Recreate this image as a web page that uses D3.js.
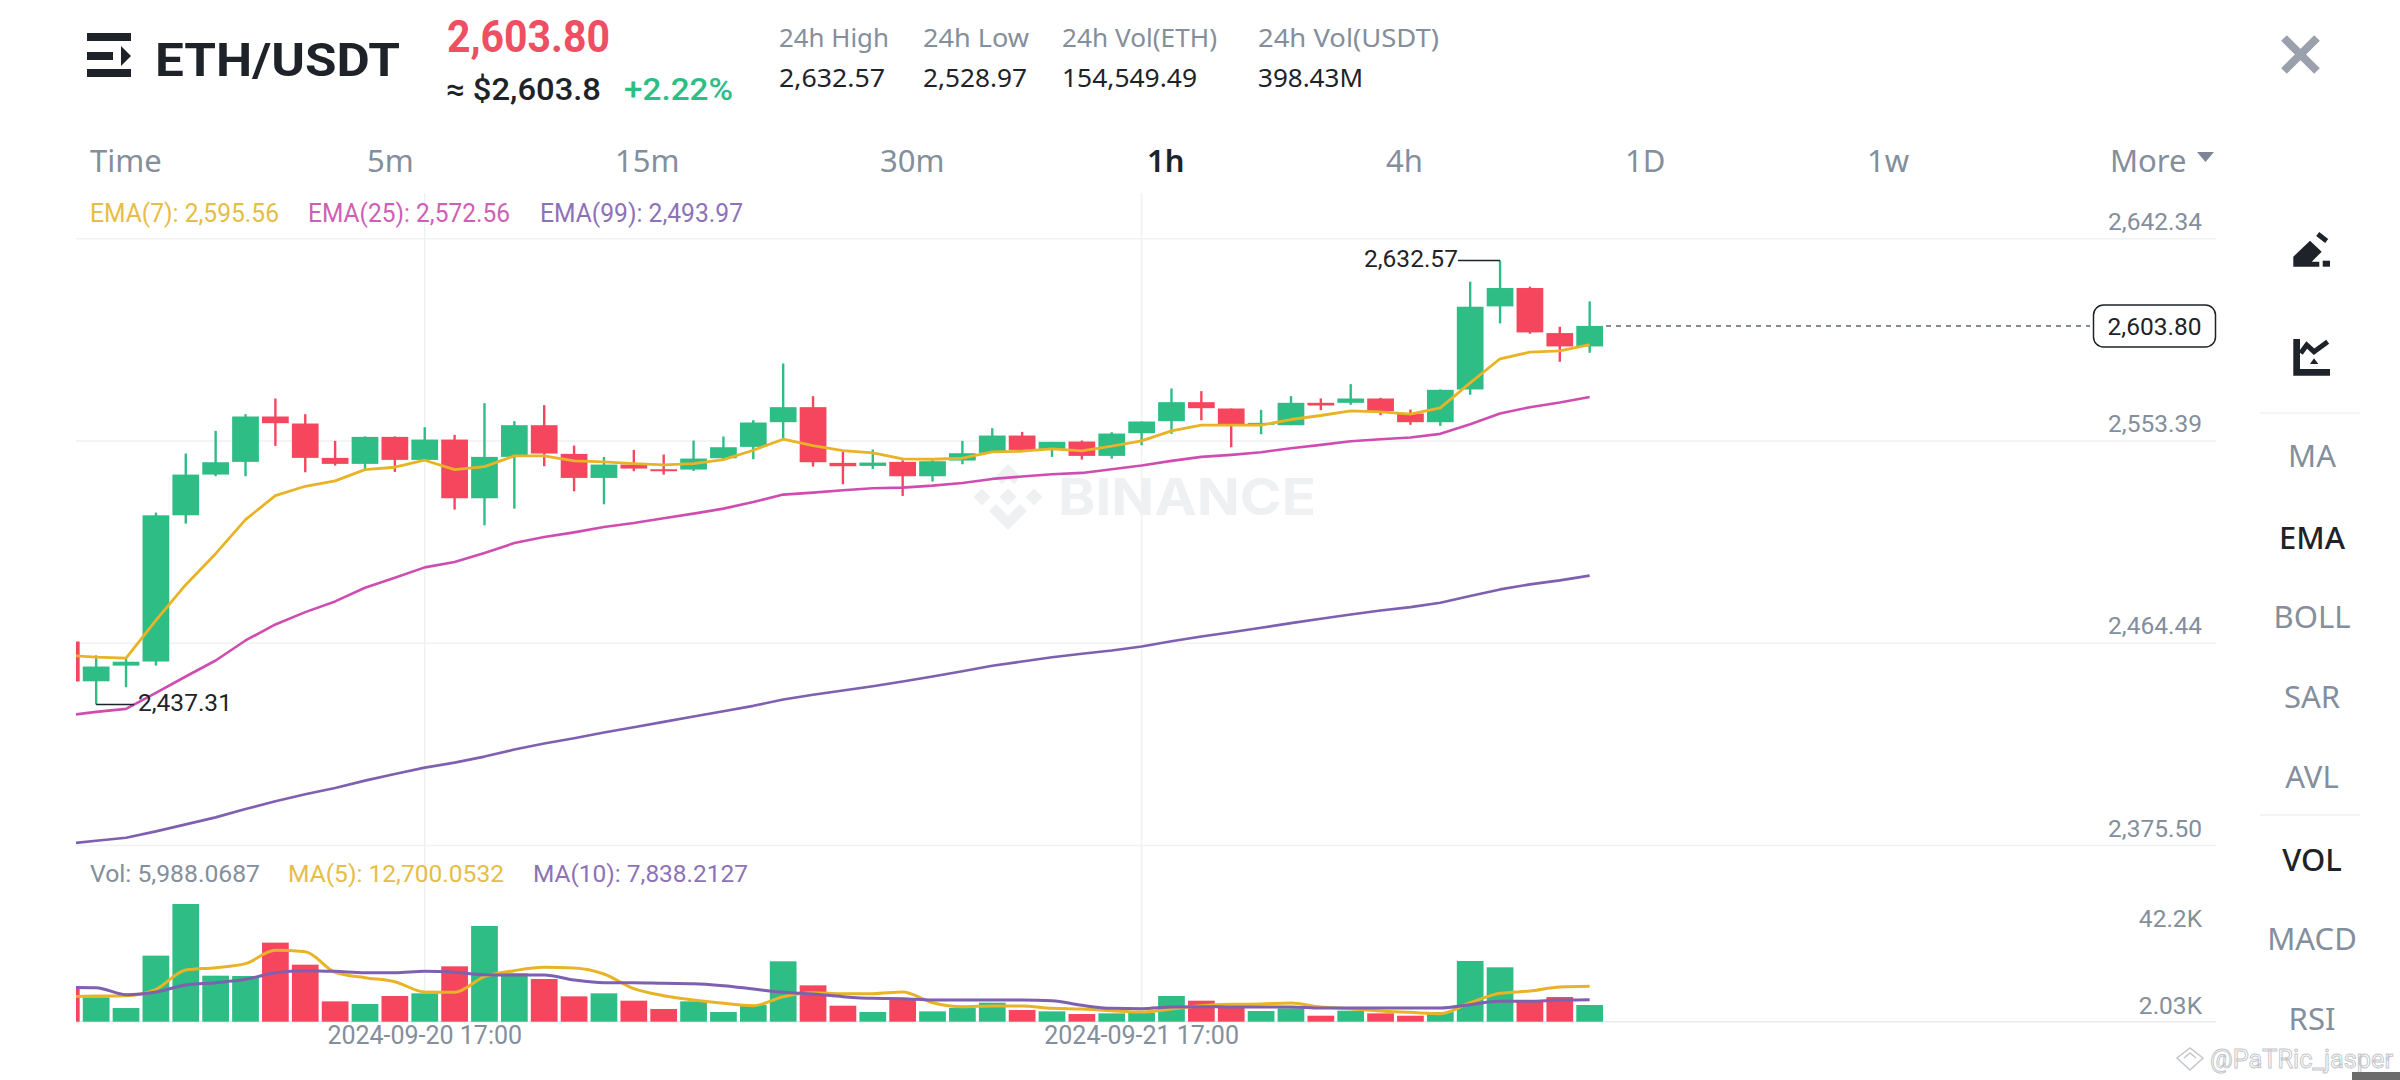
<!DOCTYPE html>
<html>
<head>
<meta charset="utf-8">
<title>ETH/USDT</title>
<script src="https://cdn.jsdelivr.net/npm/d3@7/dist/d3.min.js"></script>
<style>
  html, body { margin: 0; padding: 0; background: #fff; }
  svg { display: block; }
  .domain { display: none; }
</style>
</head>
<body>
<div id="chart"></div>
<script>
/* DATA */
const opens = [2465.0,2447.5,2454.4,2456.2,2520.51,2538.42,2544.0,2563.96,2560.88,2545.76,2543.12,2555.0,2544.88,2553.83,2528.0,2546.2,2560.14,2547.52,2536.95,2542.82,2540.77,2540.62,2545.61,2550.6,2561.46,2568.07,2543.56,2542.23,2544.0,2537.68,2544.58,2547.96,2555.59,2549.72,2552.95,2546.64,2556.62,2561.9,2570.27,2567.48,2560.29,2560.14,2569.98,2569.98,2571.88,2565.28,2561.46,2575.85,2612.4,2620.47,2600.65,2594.78];
const highs = [2465.0,2458.9,2457.7,2521.7,2547.67,2557.65,2564.99,2571.88,2564.99,2553.24,2555.2,2555.2,2559.26,2555.89,2569.83,2561.9,2568.95,2551.19,2546.2,2549.28,2547.23,2553.39,2555.15,2562.34,2587.3,2572.91,2548.55,2549.43,2544.73,2544.73,2553.24,2558.82,2557.21,2552.8,2553.39,2557.06,2561.76,2576.29,2575.11,2567.48,2566.89,2572.91,2571.88,2578.2,2572.18,2567.04,2575.85,2623.26,2632.57,2621.06,2603.44,2614.6];
const lows = [2447.4,2437.31,2444.9,2454.4,2516.84,2537.68,2537.68,2551.04,2539.45,2542.38,2540.62,2539.59,2544.88,2523.01,2516.11,2523.45,2542.09,2531.08,2525.36,2539.89,2538.42,2540.03,2544.73,2545.17,2553.83,2541.94,2534.16,2540.91,2529.02,2535.34,2542.97,2547.96,2549.13,2546.2,2545.02,2545.46,2551.34,2556.33,2562.34,2550.45,2556.18,2560.14,2566.75,2569.1,2564.55,2560.29,2559.85,2573.5,2604.91,2600.36,2588.03,2591.99];
const closes = [2447.4,2454.0,2456.1,2520.51,2538.42,2543.85,2563.96,2561.02,2545.76,2543.12,2555.0,2544.88,2553.83,2528.0,2546.2,2560.14,2547.67,2536.95,2542.82,2541.06,2539.89,2545.46,2550.45,2561.32,2568.07,2543.85,2542.09,2543.7,2537.68,2544.29,2547.81,2555.59,2549.28,2552.8,2546.64,2556.47,2561.76,2570.27,2567.63,2560.58,2561.17,2569.98,2568.8,2571.88,2566.31,2561.46,2575.7,2612.25,2620.47,2600.95,2594.78,2603.8];
const ema7 = [2458.99,2458.1,2457.66,2474.26,2489.98,2503.64,2518.6,2529.17,2533.28,2535.63,2540.62,2541.65,2544.73,2540.62,2541.94,2546.64,2546.64,2544.44,2544.0,2543.26,2542.68,2543.26,2545.02,2549.13,2553.98,2551.19,2548.99,2547.96,2545.32,2545.17,2545.61,2548.4,2548.69,2549.72,2548.84,2550.89,2553.24,2557.65,2560.14,2560.14,2560.14,2562.64,2564.4,2566.45,2566.01,2564.99,2567.77,2578.78,2589.35,2592.29,2592.87,2595.56];
const ema25 = [2432.44,2434.06,2435.38,2442.43,2449.61,2456.65,2465.46,2472.5,2477.92,2482.63,2488.66,2493.07,2497.6,2499.93,2503.9,2508.3,2510.94,2513.01,2515.35,2517.11,2519.18,2521.25,2523.45,2526.36,2529.61,2530.49,2531.52,2532.4,2532.69,2533.57,2534.75,2536.51,2537.54,2538.57,2539.15,2540.77,2542.38,2544.44,2546.2,2547.08,2548.25,2550.01,2551.48,2553.1,2553.98,2554.71,2556.33,2560.58,2565.28,2568.07,2570.12,2572.56];
const ema99 = [2375.94,2377.39,2378.71,2381.49,2384.57,2387.65,2391.35,2394.7,2397.78,2400.6,2403.81,2406.76,2409.54,2411.74,2414.38,2417.46,2420.1,2422.44,2424.95,2427.28,2429.66,2431.99,2434.33,2436.7,2439.48,2441.55,2443.44,2445.34,2447.4,2449.61,2451.94,2454.32,2456.21,2458.1,2459.6,2461.06,2462.82,2465.15,2467.22,2469.11,2471.05,2473.08,2475.01,2476.91,2478.67,2480.12,2482.06,2484.97,2487.92,2490.12,2491.88,2493.97];
const volumes = [12557,8730,4900,23680,42200,16500,16385,28345,20450,7295,6340,9210,10170,19850,34325,17340,15310,9090,10170,7535,4545,7295,3470,5980,21650,13035,5740,3470,8250,3710,4900,6815,4185,3710,2750,2990,3230,9210,7535,5380,3830,4785,2150,3950,2990,2150,3470,21770,19495,7175,8850,5988.07];
const volMa5 = [8970,9210,9330,11600,18540,19375,20810,25595,25115,17700,15790,14350,10645,10525,16145,18300,19495,19255,17100,11840,9330,7775,6580,5740,8970,10405,10045,10045,10645,6815,5380,5620,5620,4785,4545,3945,3470,4545,5740,6220,6340,6700,5260,4665,3830,3350,2870,6815,10165,11000,12440,12700.05];
const volMa10 = [12320,12200,9690,10645,13155,13990,15190,17580,18300,18060,17580,17580,18060,17700,16865,16745,16745,14950,13990,13990,13755,13635,12915,11720,10525,9925,8970,8370,8250,7775,7775,7775,7775,7535,5860,4785,4665,5260,5380,5260,5260,5260,4900,4900,4900,4900,4900,6100,7295,7295,7775,7838.21];

const priceTicks = [2642.34, 2553.39, 2464.44, 2375.50];
const volTicks = [42200, 2030];
const intervals = ["Time", "5m", "15m", "30m", "1h", "4h", "1D", "1w", "More"];
const indicators = ["MA", "EMA", "BOLL", "SAR", "AVL", "VOL", "MACD", "RSI"];
const statLabels = ["24h High", "24h Low", "24h Vol(ETH)", "24h Vol(USDT)"];
const statValues = ["2,632.57", "2,528.97", "154,549.49", "398.43M"];
const highValue = 2632.57;
const lowValue = 2437.31;
const lastPrice = 2603.80;

// one candle per hour, the first one is only half visible
const hours = d3.utcHour.range(new Date(Date.UTC(2024, 8, 20, 5)), new Date(Date.UTC(2024, 8, 22, 9)));
const timeTicks = [new Date(Date.UTC(2024, 8, 20, 17)), new Date(Date.UTC(2024, 8, 21, 17))];

/* CONSTANTS */
const width = 2400, height = 1080;
const left = 76, right = 2216;
const green = "#2ebd85", red = "#f6465d", dark = "#1e2329", grey = "#848e9c", gridColor = "#eff1f3";
const yellow = "#e8b425", pink = "#cf4db0", purple = "#7f5fb0";
const textFont = "Roboto, sans-serif";
const navFont = "'Noto Sans', sans-serif";

/* SCALES */
const x = d3.scaleBand().domain(hours).range([51.36, 1604.6]).paddingInner(0.105).paddingOuter(0.0525);
const cx = d => x(d) + x.bandwidth() / 2;
const y = d3.scaleLinear().domain([2375.50, 2642.34]).range([845, 238.3]);
const yVol = d3.scaleLinear().domain([0, 42200]).range([1021.7, 904]);

const svg = d3.select("#chart").append("svg").attr("width", width).attr("height", height);
svg.append("rect").attr("width", width).attr("height", height).attr("fill", "#fff");
svg.append("clipPath").attr("id", "plot").append("rect")
  .attr("x", left).attr("y", 190).attr("width", right - left).attr("height", 840);

function label(text, px, py, size, color, opts = {}) {
  const t = svg.append("text").attr("x", px).attr("y", py)
    .attr("font-family", opts.font || textFont).attr("font-size", size)
    .attr("font-weight", opts.weight || 400).attr("fill", color)
    .attr("text-anchor", opts.anchor || "start").text(text);
  if (opts.len) t.attr("textLength", opts.len).attr("lengthAdjust", "spacingAndGlyphs");
  return t;
}

/* GRID AND AXES */
svg.append("g").attr("transform", `translate(${right},0)`)
  .call(d3.axisLeft(y).tickValues(priceTicks).tickSize(right - left).tickFormat(""))
  .call(g => g.selectAll("line").attr("stroke", gridColor).attr("stroke-width", 1.5));
svg.append("g").attr("transform", "translate(0,193)")
  .call(d3.axisBottom(x).tickValues(timeTicks).tickSize(1022 - 193).tickFormat(""))
  .call(g => g.selectAll("line").attr("stroke", gridColor).attr("stroke-width", 1.5));
svg.append("line").attr("x1", left).attr("x2", right).attr("y1", yVol(0)).attr("y2", yVol(0))
  .attr("stroke", "#e9ecef").attr("stroke-width", 1.5);

// price watermark sits under the candles
const logo = svg.append("g").attr("fill", "#eef0f1").attr("transform", "translate(1008,497)");
logo.append("path").attr("d", "M0 -33 L13 -20 L6 -13 L0 -19 L-6 -13 L-13 -20 Z");
logo.append("path").attr("d", "M0 33 L-19 14 L-12 7 L0 19 L12 7 L19 14 Z");
logo.selectAll("rect.d").data([[-26, 0], [0, 0], [26, 0]]).join("rect")
  .attr("x", -6).attr("y", -6).attr("width", 12).attr("height", 12)
  .attr("transform", d => `translate(${d[0]},${d[1]}) rotate(45)`);
label("BINANCE", 1058, 515, 51, "#eef0f1", { font: "Inter, sans-serif", weight: 700, len: 258 });

svg.append("g").attr("transform", `translate(${right},0)`)
  .call(d3.axisLeft(y).tickValues(priceTicks).tickSize(0).tickFormat(d3.format(",.2f")))
  .call(g => g.selectAll("text").attr("x", -14).attr("dy", -9).attr("fill", grey)
    .attr("font-family", textFont).attr("font-size", 24.5));
const volFormat = d => d >= 10000 ? (d / 1000).toFixed(1) + "K" : (d / 1000).toFixed(2) + "K";
svg.append("g").attr("transform", `translate(${right},0)`)
  .call(d3.axisLeft(yVol).tickValues(volTicks).tickSize(0).tickFormat(volFormat))
  .call(g => g.selectAll("text").attr("x", -14).attr("dy", d => d > 10000 ? 22 : -2.7).attr("fill", grey)
    .attr("font-family", textFont).attr("font-size", 24.5));
svg.append("g").attr("transform", "translate(0,1022)")
  .call(d3.axisBottom(x).tickValues(timeTicks).tickSize(0).tickFormat(d3.utcFormat("%Y-%m-%d %H:%M")))
  .call(g => g.selectAll("text").attr("y", 22).attr("dy", 0).attr("fill", grey)
    .attr("font-family", textFont).attr("font-size", 25));

/* VOLUME */
const plot = svg.append("g").attr("clip-path", "url(#plot)");
plot.append("g").selectAll("rect").data(hours).join("rect")
  .attr("x", d => x(d))
  .attr("width", x.bandwidth())
  .attr("y", (d, i) => yVol(volumes[i]))
  .attr("height", (d, i) => yVol(0) - yVol(volumes[i]))
  .attr("fill", (d, i) => closes[i] >= opens[i] ? green : red);

/* CANDLES */
const candles = plot.append("g").selectAll("g").data(hours).join("g")
  .attr("fill", (d, i) => closes[i] >= opens[i] ? green : red)
  .attr("stroke", (d, i) => closes[i] >= opens[i] ? green : red);
candles.append("line")
  .attr("x1", cx).attr("x2", cx)
  .attr("y1", (d, i) => y(highs[i]))
  .attr("y2", (d, i) => y(lows[i]))
  .attr("stroke-width", 2.4);
candles.append("rect")
  .attr("x", d => x(d))
  .attr("width", x.bandwidth())
  .attr("y", (d, i) => y(Math.max(opens[i], closes[i])))
  .attr("height", (d, i) => Math.max(1.5, Math.abs(y(opens[i]) - y(closes[i]))))
  .attr("stroke", "none");

/* LINES */
function drawLine(values, scale, color, lineWidth, curve) {
  const line = d3.line().x(d => cx(d)).y(d => scale(values[hours.indexOf(d)])).curve(curve);
  plot.append("path").datum(hours).attr("d", line).attr("fill", "none")
    .attr("stroke", color).attr("stroke-width", lineWidth).attr("stroke-linejoin", "round");
}
drawLine(ema99, y, purple, 2.6, d3.curveLinear);
drawLine(ema25, y, pink, 2.6, d3.curveLinear);
drawLine(ema7, y, yellow, 2.8, d3.curveLinear);
drawLine(volMa5, yVol, yellow, 3, d3.curveMonotoneX);
drawLine(volMa10, yVol, purple, 3, d3.curveMonotoneX);

/* LAST PRICE AND EXTREMES */
svg.append("line").attr("x1", 1606).attr("x2", 2090).attr("y1", y(lastPrice)).attr("y2", y(lastPrice))
  .attr("stroke", "#5e6673").attr("stroke-width", 1.5).attr("stroke-dasharray", "5 5");
svg.append("rect").attr("x", 2093.5).attr("y", 305).attr("width", 122).attr("height", 42).attr("rx", 10)
  .attr("fill", "#fff").attr("stroke", dark).attr("stroke-width", 1.5);
label(d3.format(",.2f")(lastPrice), 2154.5, 335, 24.5, dark, { anchor: "middle" });

svg.append("line").attr("x1", 1458).attr("x2", cx(hours[48])).attr("y1", y(highValue)).attr("y2", y(highValue))
  .attr("stroke", dark).attr("stroke-width", 1.5);
label(d3.format(",.2f")(highValue), 1364, 267, 24.5, dark);
svg.append("line").attr("x1", cx(hours[1])).attr("x2", 134).attr("y1", y(lowValue)).attr("y2", y(lowValue))
  .attr("stroke", dark).attr("stroke-width", 1.5);
label(d3.format(",.2f")(lowValue), 138, 711, 24.5, dark);

/* LEGENDS */
label("EMA(7): 2,595.56", 90, 222, 25, "#e6bd45", { len: 189 });
label("EMA(25): 2,572.56", 308, 222, 25, "#cf5fb5", { len: 202 });
label("EMA(99): 2,493.97", 540, 222, 25, "#8d72b8", { len: 203 });
label("Vol: 5,988.0687", 90, 882, 24, grey, { len: 170 });
label("MA(5): 12,700.0532", 288, 882, 24, "#e6bd45", { len: 216 });
label("MA(10): 7,838.2127", 533, 882, 24, "#8d72b8", { len: 215 });

/* HEADER */
const menu = svg.append("g").attr("fill", dark);
menu.append("rect").attr("x", 87).attr("y", 33).attr("width", 44).attr("height", 8);
menu.append("rect").attr("x", 87).attr("y", 52).attr("width", 26).attr("height", 8);
menu.append("path").attr("d", "M121 46 L131 56 L121 66 Z");
menu.append("rect").attr("x", 87).attr("y", 69).attr("width", 44).attr("height", 8);

label("ETH/USDT", 155, 76, 47, dark, { weight: 700, len: 245 });
label("2,603.80", 447, 52, 44, "#ee4f63", { weight: 700, len: 163 });
label("≈ $2,603.8", 446, 100, 31, dark, { weight: 500, len: 155 });
label("+2.22%", 624, 100, 31, green, { weight: 500, len: 109 });

const statLeft = [779, 923, 1062, 1258];
const statLabelLen = [110, 106, 155, 181];
const statValueLen = [106, 104, 135, 105];
statLabels.forEach((s, i) => {
  label(s, statLeft[i], 47, 26, grey, { font: navFont, len: statLabelLen[i] });
  label(statValues[i], statLeft[i], 87, 26, dark, { font: navFont, len: statValueLen[i] });
});

const tabLeft = [90, 367, 615, 880, 1147, 1386, 1625, 1867, 2110];
intervals.forEach((s, i) => {
  label(s, tabLeft[i], 172, 31, s === "1h" ? dark : grey, { font: navFont, weight: s === "1h" ? 600 : 400 });
});
svg.append("path").attr("d", "M2197 152 L2214 152 L2205.5 162 Z").attr("fill", "#7d8696");

/* RIGHT SIDE */
svg.append("path").attr("d", "M2284 38 L2317 71 M2317 38 L2284 71")
  .attr("stroke", "#9aa1ac").attr("stroke-width", 8).attr("fill", "none");

const pencil = svg.append("g").attr("fill", dark);
pencil.append("path").attr("d", "M2293.3 256.7 L2310 240.7 L2321.7 251.7 L2311.7 261.7 L2319.3 261.7 L2319.3 266.7 L2293.3 266.7 Z");
pencil.append("path").attr("d", "M2317.7 234 L2326.7 241").attr("stroke", dark).attr("stroke-width", 5);
pencil.append("rect").attr("x", 2322.7).attr("y", 260.7).attr("width", 7.3).attr("height", 6);

const chartIcon = svg.append("g").attr("fill", dark);
chartIcon.append("path").attr("d", "M2293.3 339 H2300 V369 H2330 V375.7 H2293.3 Z");
chartIcon.append("path").attr("d", "M2300.7 353.3 L2306.7 345 L2314 351.7 L2327.7 341.7")
  .attr("fill", "none").attr("stroke", dark).attr("stroke-width", 5);
chartIcon.append("path").attr("d", "M2310 364 L2318.3 364 L2314 358.3 Z");

svg.selectAll("line.sep").data([413, 815]).join("line").attr("class", "sep")
  .attr("x1", 2260).attr("x2", 2360).attr("y1", d => d).attr("y2", d => d)
  .attr("stroke", gridColor).attr("stroke-width", 1.5);

const indicatorY = [467, 549, 628, 708, 788, 871, 950, 1030];
indicators.forEach((s, i) => {
  const on = s === "EMA" || s === "VOL";
  label(s, 2312, indicatorY[i], 31, on ? dark : grey, { font: navFont, anchor: "middle", weight: on ? 500 : 400 });
});

/* REPOST MARK */
label("@PaTRic_jasper", 2210, 1068, 26, "#fff", { len: 183 })
  .attr("stroke", "#c4c7cb").attr("stroke-width", 1);
svg.append("path").attr("d", "M2177 1058 L2190 1048 L2203 1058 L2190 1070 Z M2184 1058 L2190 1053 L2196 1058")
  .attr("fill", "none").attr("stroke", "#c4c7cb").attr("stroke-width", 1.5);
svg.append("rect").attr("x", 2352).attr("y", 1072).attr("width", 48).attr("height", 8).attr("fill", "#6b6b6b");
</script>
</body>
</html>
